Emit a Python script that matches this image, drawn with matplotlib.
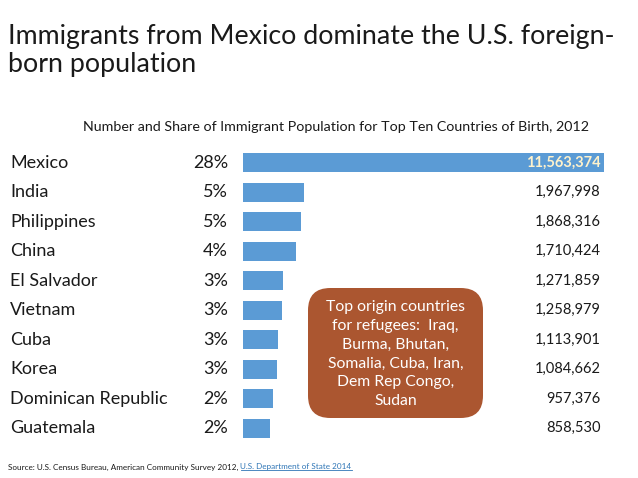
import matplotlib.pyplot as plt
from matplotlib.patches import FancyBboxPatch

countries = ["Mexico", "India", "Philippines", "China", "El Salvador",
             "Vietnam", "Cuba", "Korea", "Dominican Republic", "Guatemala"]
shares = ["28%", "5%", "5%", "4%", "3%", "3%", "3%", "3%", "2%", "2%"]
population = [11563374, 1967998, 1868316, 1710424, 1271859,
              1258979, 1113901, 1084662, 957376, 858530]

plt.rcParams['font.family'] = ['Lato', 'DejaVu Sans']

W, H = 638, 478
fig = plt.figure(figsize=(W / 100, H / 100), dpi=100)

# bars axis, pixel layout from the slide
x0, x1 = 243, 604
y0, y1 = 148, 443
ax = fig.add_axes([x0 / W, 1 - y1 / H, (x1 - x0) / W, (y1 - y0) / H])
pos = list(range(len(countries)))
ax.barh(pos, population, height=0.65, color="#5B9BD5")
ax.set_xlim(0, population[0])
ax.set_ylim(len(countries) - 0.5, -0.5)
ax.axis("off")

px = population[0] / (x1 - x0)  # data units per pixel
for i in pos:
    ax.text(-(x0 - 10) * px, i, countries[i], ha="left", va="center",
            fontsize=13, color="#1a1a1a")
    ax.text(-15 * px, i, shares[i], ha="right", va="center",
            fontsize=13, color="#1a1a1a")
    if i == 0:
        ax.text(population[0] * 0.99, i, f"{population[i]:,}", ha="right",
                va="center", fontsize=10.5, color="#FFF2CC", fontweight="bold")
    else:
        ax.text(population[0] * 0.99, i, f"{population[i]:,}", ha="right",
                va="center", fontsize=10.5, color="#1a1a1a")

# title and subtitle
fig.text(8 / W, 1 - 44 / H, "Immigrants from Mexico dominate the U.S. foreign-",
         ha="left", va="baseline", fontsize=19.3, color="#1a1a1a")
fig.text(8 / W, 1 - 72 / H, "born population",
         ha="left", va="baseline", fontsize=19.3, color="#1a1a1a")
fig.text(336 / W, 1 - 127 / H,
         "Number and Share of Immigrant Population for Top Ten Countries of Birth, 2012",
         ha="center", va="center", fontsize=10.3, color="#1a1a1a")

# refugee box
box = FancyBboxPatch((308 / W, 1 - 418 / H), 175 / W, 130 / H,
                     boxstyle="round,pad=0,rounding_size=0.035",
                     transform=fig.transFigure, facecolor="#AB5630",
                     edgecolor="none", mutation_aspect=W / H)
fig.patches.append(box)
fig.text(395.5 / W, 1 - 354 / H,
         "Top origin countries\nfor refugees:  Iraq,\nBurma, Bhutan,\nSomalia, Cuba, Iran,\nDem Rep Congo,\nSudan",
         ha="center", va="center", fontsize=11.3, color="white", linespacing=1.45)

# source line
src = fig.text(8 / W, 1 - 467 / H,
               "Source: U.S. Census Bureau, American Community Survey 2012, ",
               ha="left", va="center", fontsize=5.9, color="#1a1a1a")
fig.canvas.draw()
bb = src.get_window_extent()
link = fig.text(bb.x1 / W, 1 - 467 / H, "U.S. Department of State 2014",
                ha="left", va="center", fontsize=5.9, color="#2E75B6")
fig.canvas.draw()
lb = link.get_window_extent()
fig.add_artist(plt.Line2D([lb.x0 / W, lb.x1 / W], [(lb.y0 + 1) / H, (lb.y0 + 1) / H],
                          color="#2E75B6", lw=0.6, transform=fig.transFigure))

plt.savefig("out.png", dpi=100)
